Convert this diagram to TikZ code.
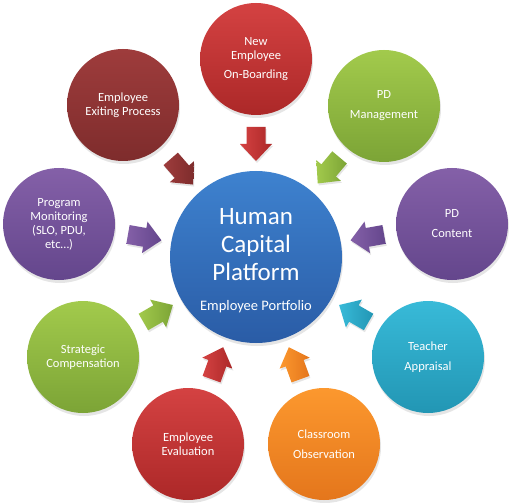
\documentclass[tikz,border=0pt]{standalone}
\usepackage{fontspec}
\setsansfont{Carlito}
\usetikzlibrary{calc,shadows}
\definecolor{hcblueA}{RGB}{62,130,207}
\definecolor{hcblueB}{RGB}{42,92,166}
\definecolor{hcredA}{RGB}{212,66,66}
\definecolor{hcredB}{RGB}{172,40,40}
\definecolor{hcmaroonA}{RGB}{158,60,60}
\definecolor{hcmaroonB}{RGB}{126,44,44}
\definecolor{hcgreenA}{RGB}{162,202,76}
\definecolor{hcgreenB}{RGB}{124,164,54}
\definecolor{hcpurpleA}{RGB}{132,96,168}
\definecolor{hcpurpleB}{RGB}{100,70,140}
\definecolor{hccyanA}{RGB}{56,186,216}
\definecolor{hccyanB}{RGB}{34,150,180}
\definecolor{hcorangeA}{RGB}{252,152,46}
\definecolor{hcorangeB}{RGB}{228,118,28}
% block arrow: angle of its tip seen from the hub, colour pair
\newcommand{\hcarrow}[2]{%
  \path[left color=#2A,right color=#2B,drop shadow={opacity=.2,shadow xshift=1pt,shadow yshift=-2pt},
    shift={($(hc)+(#1:96pt)$)},rotate=#1+180]
    (0,0) -- (-17,16) -- (-17,9.5) -- (-34,9.5) -- (-34,-9.5) -- (-17,-9.5) -- (-17,-16) -- cycle;}
\begin{document}
\begin{tikzpicture}[x=1pt,y=-1pt,
  hub/.style={circle,inner sep=0pt,minimum size=172pt,text=white,align=center,
    font=\sffamily\fontsize{25}{28}\selectfont,
    top color=hcblueA,bottom color=hcblueB,drop shadow={opacity=.2,shadow xshift=1pt,shadow yshift=-3pt}},
  spoke/.style={circle,inner sep=0pt,minimum size=112pt,text=white,align=center,
    font=\sffamily\fontsize{12.5}{14}\selectfont,top color=#1A,bottom color=#1B,
    drop shadow={opacity=.2,shadow xshift=1pt,shadow yshift=-3pt}}]
\path[use as bounding box,fill=white] (0,0) rectangle (510,502);
\coordinate (hc) at (256,257);
% outer topics
\node[spoke=hcred] (newemp) at (256,59) {New\\Employee\\[5pt]On-Boarding};
\node[spoke=hcgreen] (pdmgmt) at (384,106) {PD\\[6pt]Management};
\node[spoke=hcpurple] (pdcontent) at (452,224) {PD\\[6pt]Content};
\node[spoke=hccyan] (teacher) at (428,357) {Teacher\\[6pt]Appraisal};
\node[spoke=hcorange] (classroom) at (324,444) {Classroom\\[6pt]Observation};
\node[spoke=hcred] (evaluation) at (188,444) {Employee\\Evaluation};
\node[spoke=hcgreen] (strategic) at (83,357) {Strategic\\Compensation};
\node[spoke=hcpurple] (progmon) at (59,224) {Program\\Monitoring\\(SLO, PDU,\\etc\dots)};
\node[spoke=hcmaroon] (exiting) at (123,105) {Employee\\Exiting Process};
% arrows into the hub
\hcarrow{90}{hcred}
\hcarrow{50}{hcgreen}
\hcarrow{10}{hcpurple}
\hcarrow{-30}{hccyan}
\hcarrow{-70}{hcorange}
\hcarrow{-110}{hcred}
\hcarrow{-150}{hcgreen}
\hcarrow{170}{hcpurple}
\hcarrow{131}{hcmaroon}
% hub
\node[hub] (platform) at (hc) {};
\node[text=white,align=center,font=\sffamily\fontsize{25}{28}\selectfont] (platformtext) at ($(hc)+(0,4)$) {Human\\Capital\\Platform\\[2pt]{\fontsize{14.5}{16}\selectfont Employee Portfolio}};
\end{tikzpicture}
\end{document}
